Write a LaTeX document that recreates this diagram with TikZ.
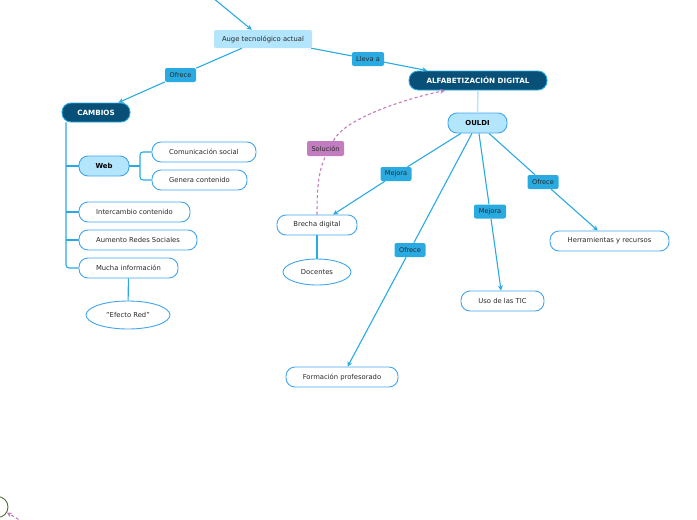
\documentclass[tikz,border=0pt]{standalone}
\usepackage{fontspec}
\setmainfont{DejaVu Sans}
\usetikzlibrary{arrows.meta,shapes.geometric}
\definecolor{lineblue}{RGB}{41,171,226}
\definecolor{bordblue}{RGB}{66,165,240}
\definecolor{lightblue}{RGB}{179,229,252}
\definecolor{navy}{RGB}{8,80,120}
\definecolor{purp}{RGB}{193,125,192}
\definecolor{txt}{RGB}{40,40,40}
\definecolor{darkgreen}{RGB}{80,110,50}
\tikzset{
  every node/.style={font=\fontsize{6.8}{8}\selectfont, text=txt, inner sep=0pt},
  pill/.style={draw=bordblue, line width=0.9pt, fill=white, rounded corners=9pt, minimum height=20pt},
  oval/.style={ellipse, draw=bordblue, line width=0.9pt, fill=white},
  mainbox/.style={draw=lineblue, line width=0.9pt, fill=navy, rounded corners=9pt, minimum height=19pt, text=white, font=\fontsize{7.2}{8}\selectfont\bfseries},
  subbox/.style={draw=bordblue, line width=0.9pt, fill=lightblue, rounded corners=9pt, minimum height=20pt, font=\fontsize{6.9}{8}\selectfont\bfseries, text=black},
  toplbl/.style={fill=lightblue, rounded corners=2pt, minimum height=18pt, minimum width=98pt},
  lbl/.style={fill=lineblue, rounded corners=2pt, minimum height=14pt, font=\fontsize{6.6}{7}\selectfont},
  plbl/.style={fill=purp, rounded corners=2pt, minimum height=15pt, font=\fontsize{6.6}{7}\selectfont},
  conn/.style={draw=lineblue, line width=1.1pt},
  arr/.style={conn, -{Stealth[length=5pt,width=5pt]}},
  pconn/.style={draw=purp, line width=1.1pt, dash pattern=on 3pt off 2.5pt},
}
\begin{document}
\begin{tikzpicture}[x=1pt,y=-1pt]
\useasboundingbox (0,0) rectangle (697,520);
% nodes
\node[toplbl] (auge) at (263,39) {Auge tecnológico actual};
\node[mainbox, minimum width=68pt] (cambios) at (96,112.5) {CAMBIOS};
\node[mainbox, minimum width=138pt] (alfa) at (478,80.5) {ALFABETIZACIÓN DIGITAL};
\node[subbox, minimum width=59pt] (ouldi) at (477.5,123) {OULDI};
\node[subbox, minimum width=50pt] (web) at (104,166) {Web};
\node[pill, minimum width=104pt] (com) at (204,152) {Comunicación social};
\node[pill, minimum width=95pt] (gen) at (199.5,180) {Genera contenido};
\node[pill, minimum width=111pt] (inter) at (134.5,212) {Intercambio contenido};
\node[pill, minimum width=118pt] (aum) at (138,240) {Aumento Redes Sociales};
\node[pill, minimum width=99pt] (mucha) at (128.5,268) {Mucha información};
\node[oval, minimum width=84pt, minimum height=28pt] (efecto) at (128,315) {"Efecto Red"};
\node[pill, minimum width=80pt] (brecha) at (317,225) {Brecha digital};
\node[oval, minimum width=68pt, minimum height=26pt] (doc) at (317,272) {Docentes};
\node[pill, minimum width=112pt] (form) at (342,377) {Formación profesorado};
\node[pill, minimum width=83pt] (uso) at (502.5,301) {Uso de las TIC};
\node[pill, minimum width=119pt] (herr) at (609.5,241) {Herramientas y recursos};
% labels
\node[lbl, minimum width=31pt] (of1) at (180.5,75) {Ofrece};
\node[lbl, minimum width=32pt] (lleva) at (368,59) {Lleva a};
\node[lbl, minimum width=31pt] (mej1) at (396,174) {Mejora};
\node[lbl, minimum width=31pt] (of2) at (410,250) {Ofrece};
\node[lbl, minimum width=32pt] (mej2) at (490,211.5) {Mejora};
\node[lbl, minimum width=31pt] (of3) at (543,182) {Ofrece};
\node[plbl, minimum width=37pt] (sol) at (325.5,148.5) {Solución};
% partial node at bottom-left
\node[circle, draw=darkgreen, line width=0.9pt, minimum size=21pt] (off) at (-2.5,507) {};
\coordinate (topsrc) at (213,-2);
\coordinate (offsrc) at (28,525);
\coordinate (trunk) at (66,0);
\coordinate (wb) at (140,0);
% connectors
\draw[arr] (topsrc) -- (auge);
\draw[conn] (auge) -- (of1);
\draw[arr] (of1) -- (cambios);
\draw[conn] (auge) -- (lleva);
\draw[arr] (lleva) -- (alfa);
\draw[draw=lightblue, line width=1.4pt] (alfa) -- (ouldi);
\draw[conn] (ouldi) -- (mej1);
\draw[arr] (mej1) -- (brecha);
\draw[conn] (ouldi) -- (of2);
\draw[arr] (of2) -- (form);
\draw[conn] (ouldi) -- (mej2);
\draw[arr] (mej2) -- (uso);
\draw[conn] (ouldi) -- (of3);
\draw[arr] (of3) -- (herr);
\draw[conn] (brecha) -- (doc);
\draw[conn] (mucha) -- (efecto);
\draw[conn, rounded corners=3pt] (cambios.south -| trunk) |- (mucha.west);
\draw[conn] (trunk |- web) -- (web.west);
\draw[conn] (trunk |- inter) -- (inter.west);
\draw[conn] (trunk |- aum) -- (aum.west);
\draw[conn] (web.east) -- (wb |- web);
\draw[conn, rounded corners=3pt] (wb |- web) |- (com.west);
\draw[conn, rounded corners=3pt] (wb |- web) |- (gen.west);
\draw[pconn] (brecha.north) .. controls (317,185) and (319,170) .. (sol.south);
\draw[pconn, -{Stealth[length=5pt,width=5pt]}] (sol.north) ++(8,0) .. controls (343,120) and (400,100) .. (alfa.south west -| 445,0);
\draw[pconn, -{Stealth[length=5pt,width=5pt]}] (offsrc) -- (off);
\end{tikzpicture}
\end{document}
